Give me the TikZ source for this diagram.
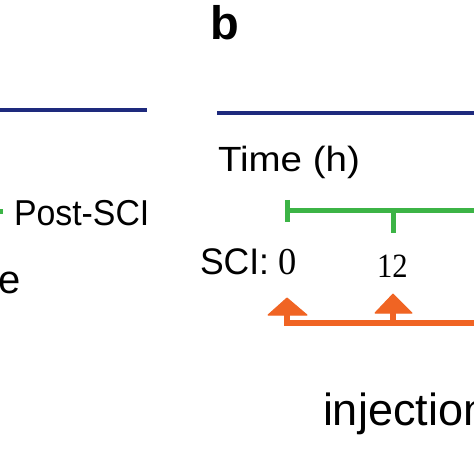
\documentclass[tikz,border=0pt]{standalone}
\usepackage{fontspec}
\setmainfont{Liberation Sans}
\newfontfamily\tnr{Liberation Serif}
\definecolor{navy}{RGB}{30,42,125}
\definecolor{grn}{RGB}{60,180,70}
\definecolor{org}{RGB}{240,100,35}
\tikzset{
  lbl/.style={anchor=base west, inner sep=0, outer sep=0, text=black},
  navyline/.style={draw=navy, line width=4bp},
  grnline/.style={draw=grn, line width=5bp},
  orgline/.style={draw=org, line width=5.5bp},
  orghead/.style={fill=org, draw=org, line width=1bp, line join=round},
}
\begin{document}
\begin{tikzpicture}[x=1bp,y=-1bp]
\useasboundingbox (0,0) rectangle (474,474);
\clip (0,0) rectangle (474,474);
\fill[white] (0,0) rectangle (474,474);
% panel label
\node[lbl] (b) at (210,40) {\fontsize{47bp}{50bp}\selectfont\bfseries b};
% blue lines
\coordinate (bl1) at (0,110);
\coordinate (bl2) at (147,110);
\coordinate (br1) at (217,113);
\coordinate (br2) at (480,113);
\draw[navyline] (bl1) -- (bl2);
\draw[navyline] (br1) -- (br2);
% texts
\node[lbl, xscale=1.1] (time) at (218,172) {\fontsize{35bp}{40bp}\selectfont Time (h)};
\node[lbl, xscale=0.94] (post) at (14,226) {\fontsize{36bp}{40bp}\selectfont Post-SCI};
\node[lbl] (e) at (-1,293) {\fontsize{40bp}{44bp}\selectfont e};
\node[lbl, xscale=0.96] (sci) at (200,274) {\fontsize{37bp}{40bp}\selectfont SCI: {\tnr\fontsize{38bp}{40bp}\selectfont 0}};
\node[lbl, xscale=0.9] (twelve) at (377,277) {\fontsize{34bp}{38bp}\selectfont\tnr 12};
\node[lbl] (inj) at (323,425) {\fontsize{45bp}{50bp}\selectfont injection};
% green timeline
\coordinate (gdot1) at (-2,212);
\coordinate (gdot2) at (3,212);
\draw[grnline] (gdot1) -- (gdot2);
\coordinate (g0) at (287,211);
\coordinate (gend) at (480,211);
\coordinate (g0t) at (287,200);
\coordinate (g0b) at (287,222);
\coordinate (g12) at (393,211);
\coordinate (g12b) at (393,233);
\draw[grnline] (g0) -- (gend);
\draw[grnline] (g0t) -- (g0b);
\draw[grnline] (g12) -- (g12b);
% orange injection line
\coordinate (o0) at (284,323);
\coordinate (oend) at (480,323);
\coordinate (o0c) at (287,325.7);
\coordinate (o0s) at (287,312);
\coordinate (o12) at (393,323);
\coordinate (o12s) at (393,310);
\draw[orgline] (o0) -- (oend);
\draw[orgline] (o0c) -- (o0s);
\draw[orgline] (o12) -- (o12s);
\filldraw[orghead] (287,298) -- (307,315) -- (268,315) -- cycle;
\filldraw[orghead] (393,294) -- (412,313) -- (375,313) -- cycle;
\end{tikzpicture}
\end{document}
